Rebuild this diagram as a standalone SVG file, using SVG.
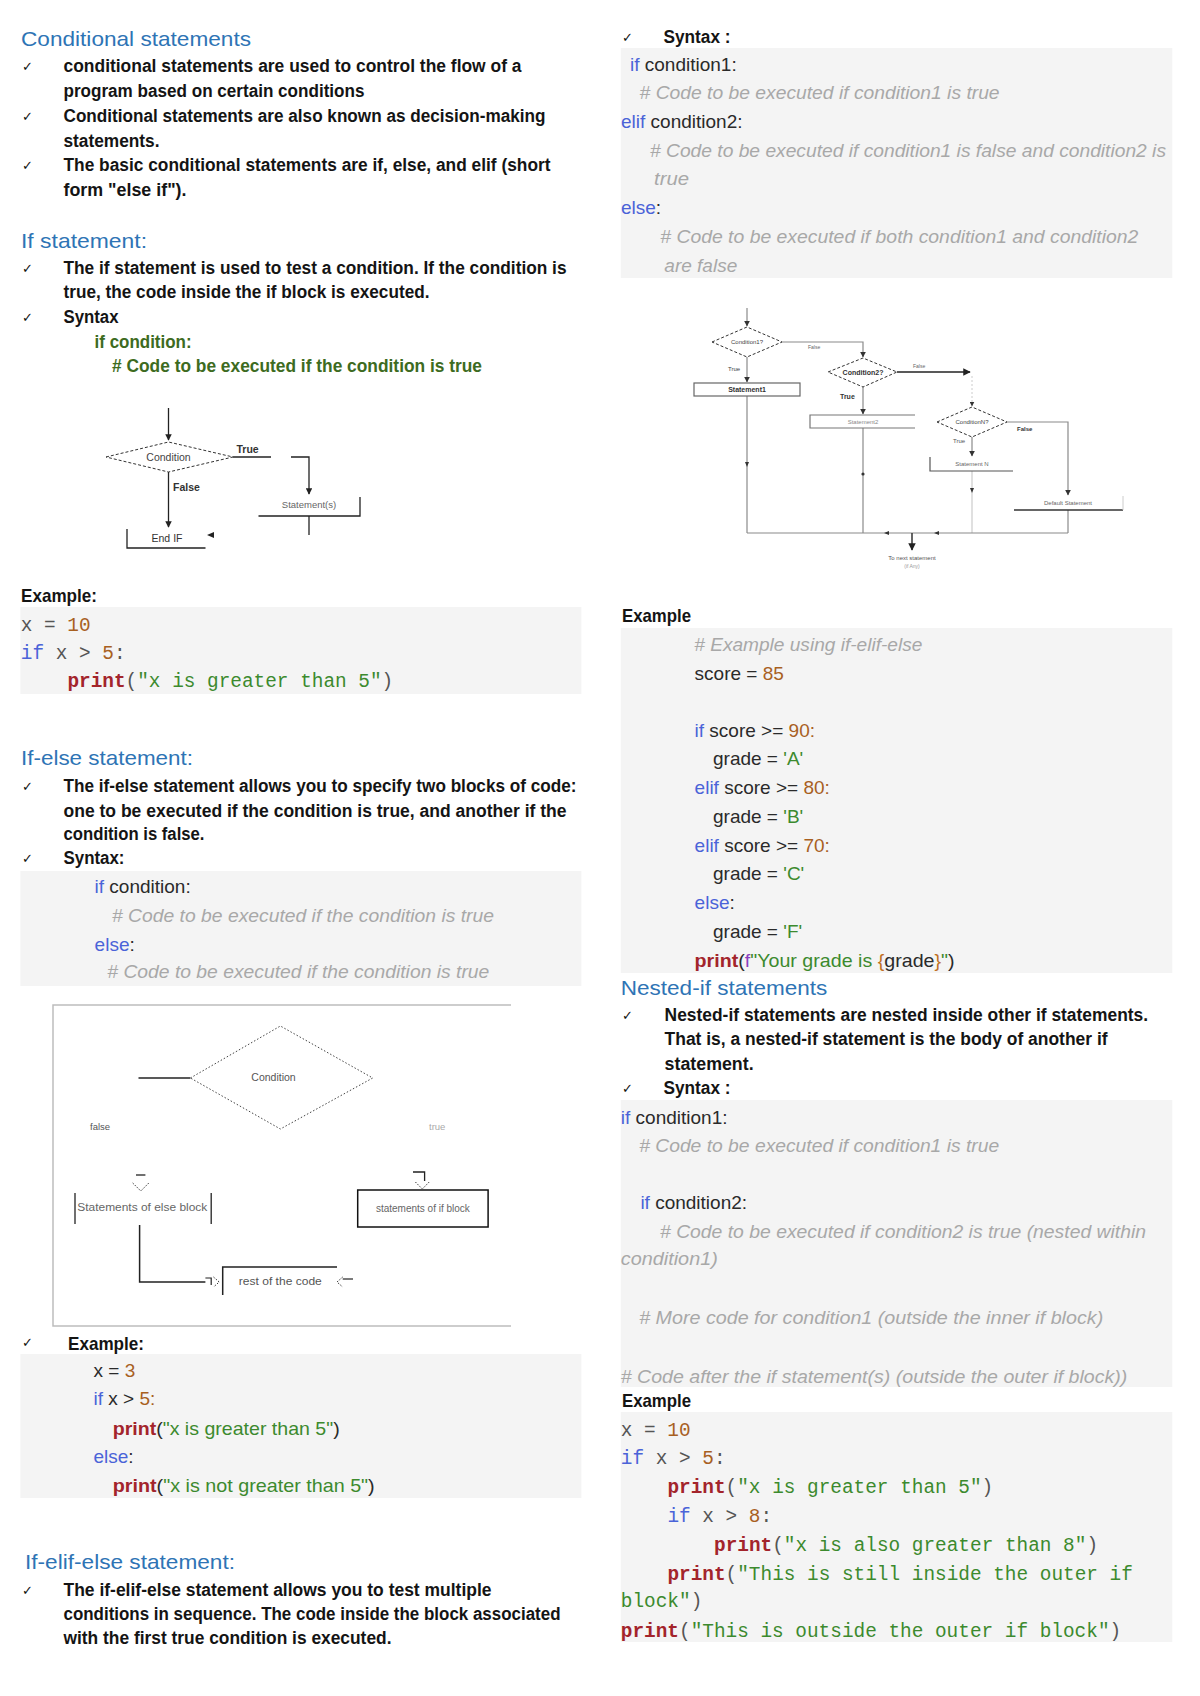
<svg xmlns="http://www.w3.org/2000/svg" width="1200" height="1696" viewBox="0 0 1200 1696">
<style>
text{font-family:'Liberation Sans Narrow','Liberation Sans',Arial,sans-serif}
.h{font-size:21px;fill:#2E74B5}
.b{font-size:17.5px;font-weight:bold;fill:#141414}
.ex{font-size:19px;font-weight:bold;fill:#141414}
.ck{font-family:'DejaVu Sans',sans-serif;font-size:13px;fill:#111}
.g{font-size:17.5px;font-weight:bold;fill:#3D6B21}
.c{font-size:19px;fill:#2a2a2a}
.cm{font-size:18.5px;font-style:italic;fill:#A8A8A8}
.m{font-family:'Liberation Mono','DejaVu Sans Mono',monospace;font-size:19.4px;fill:#555}
.kw{fill:#4A63D8}
.num{fill:#A8601F}
.pr{fill:#A3242B;font-weight:bold}
.str{fill:#3C8A2E}
.pu{fill:#8A3FBF}
.br{fill:#C0701F}
.box{fill:#F4F4F4}
.fl{fill:none;stroke:#222;stroke-width:1.3}
.fg{fill:none;stroke:#8a8a8a;stroke-width:1.2}
.dash{fill:#fff;stroke:#333;stroke-width:1;stroke-dasharray:3 2}
.dot{fill:#fff;stroke:#444;stroke-width:1;stroke-dasharray:1.5 2}
.tiny{font-size:6px;fill:#444}
</style>
<defs>
<marker id="ah" viewBox="0 0 10 10" refX="9" refY="5" markerWidth="5" markerHeight="5" orient="auto"><path d="M0,0 L10,5 L0,10 z" fill="#222"/></marker>
<marker id="ahg" viewBox="0 0 10 10" refX="9" refY="5" markerWidth="5" markerHeight="5" orient="auto"><path d="M0,0 L10,5 L0,10 z" fill="#333"/></marker>
</defs>
<rect width="1200" height="1696" fill="#fff"/>

<!-- ===== LEFT COLUMN ===== -->
<g id="sec-conditional">
<text class="h" x="21" y="46" textLength="230" lengthAdjust="spacingAndGlyphs">Conditional statements</text>
<text class="ck" x="22" y="71">✓</text>
<text class="b" x="63.5" y="72" textLength="458" lengthAdjust="spacingAndGlyphs">conditional statements are used to control the flow of a</text>
<text class="b" x="63.5" y="97" textLength="301" lengthAdjust="spacingAndGlyphs">program based on certain conditions</text>
<text class="ck" x="22" y="121">✓</text>
<text class="b" x="63.5" y="122" textLength="482" lengthAdjust="spacingAndGlyphs">Conditional statements are also known as decision-making</text>
<text class="b" x="63.5" y="147" textLength="96" lengthAdjust="spacingAndGlyphs">statements.</text>
<text class="ck" x="22" y="170">✓</text>
<text class="b" x="63.5" y="171" textLength="487" lengthAdjust="spacingAndGlyphs">The basic conditional statements are if, else, and elif (short</text>
<text class="b" x="63.5" y="196" textLength="123" lengthAdjust="spacingAndGlyphs">form "else if").</text>
</g>

<g id="sec-if">
<text class="h" x="21" y="248" textLength="126" lengthAdjust="spacingAndGlyphs">If statement:</text>
<text class="ck" x="22" y="273">✓</text>
<text class="b" x="63.5" y="274" textLength="503" lengthAdjust="spacingAndGlyphs">The if statement is used to test a condition. If the condition is</text>
<text class="b" x="63.5" y="298" textLength="366" lengthAdjust="spacingAndGlyphs">true, the code inside the if block is executed.</text>
<text class="ck" x="22" y="322">✓</text>
<text class="b" x="63.5" y="323" textLength="55" lengthAdjust="spacingAndGlyphs">Syntax</text>
<text class="g" x="94.6" y="348" textLength="97" lengthAdjust="spacingAndGlyphs">if condition:</text>
<text class="g" x="112" y="372" textLength="370" lengthAdjust="spacingAndGlyphs"># Code to be executed if the condition is true</text>
</g>

<!-- If flowchart -->
<g id="if-flow-connectors">
<line class="fl" x1="168.5" y1="408" x2="168.5" y2="440" marker-end="url(#ah)"/>
<line class="fl" x1="233" y1="457" x2="271" y2="457"/>
<polyline class="fl" points="291,457 309,457 309,494" marker-end="url(#ah)"/>
<line class="fl" x1="168.5" y1="472" x2="168.5" y2="527" marker-end="url(#ah)"/>
<line class="fl" x1="309" y1="516" x2="309" y2="535" stroke-width="1.6"/>
<polygon points="207,535 214,532 214,538" fill="#222"/>
</g>
<g id="if-flow-condition">
<polygon class="dash" points="106,457 168.5,442 233,457 168.5,472"/>
<text x="168.5" y="461" font-size="10.5" fill="#444" text-anchor="middle">Condition</text>
<text x="236.5" y="453" font-size="10.5" font-weight="bold" fill="#333">True</text>
<text x="173" y="491" font-size="10.5" font-weight="bold" fill="#333">False</text>
</g>
<g id="if-flow-statement">
<polyline class="fl" points="360,497 360,516 258.5,516" stroke-width="1.6"/>
<text x="309" y="508" font-size="9.5" fill="#666" text-anchor="middle">Statement(s)</text>
</g>
<g id="if-flow-endif">
<polyline class="fl" points="127,529 127,548 205.5,548" stroke-width="1.6"/>
<text x="167" y="542" font-size="10.5" fill="#333" text-anchor="middle">End IF</text>
</g>

<g id="sec-if-example">
<text class="ex" x="21" y="602" textLength="76" lengthAdjust="spacingAndGlyphs">Example:</text>
<rect class="box" x="20.4" y="607" width="561" height="87"/>
<text class="m" x="20.8" y="631">x = <tspan class="num">10</tspan></text>
<text class="m" x="20.8" y="659"><tspan class="kw">if</tspan> x &gt; <tspan class="num">5</tspan>:</text>
<text class="m" x="67.4" y="687"><tspan class="pr">print</tspan>(<tspan class="str">"x is greater than 5"</tspan>)</text>
</g>

<g id="sec-ifelse">
<text class="h" x="21" y="765" textLength="172" lengthAdjust="spacingAndGlyphs">If-else statement:</text>
<text class="ck" x="22" y="791">✓</text>
<text class="b" x="63.5" y="792" textLength="513" lengthAdjust="spacingAndGlyphs">The if-else statement allows you to specify two blocks of code:</text>
<text class="b" x="63.5" y="817" textLength="503" lengthAdjust="spacingAndGlyphs">one to be executed if the condition is true, and another if the</text>
<text class="b" x="63.5" y="840" textLength="141" lengthAdjust="spacingAndGlyphs">condition is false.</text>
<text class="ck" x="22" y="863">✓</text>
<text class="b" x="63.5" y="864" textLength="61" lengthAdjust="spacingAndGlyphs">Syntax:</text>
<rect class="box" x="20.4" y="871" width="561" height="115"/>
<text class="c" x="94.6" y="893"><tspan class="kw">if</tspan> condition:</text>
<text class="cm" x="112" y="922" textLength="382" lengthAdjust="spacingAndGlyphs"># Code to be executed if the condition is true</text>
<text class="c" x="94.6" y="951"><tspan class="kw">else</tspan>:</text>
<text class="cm" x="107.3" y="978" textLength="382" lengthAdjust="spacingAndGlyphs"># Code to be executed if the condition is true</text>
</g>

<!-- If-else flowchart -->
<g id="ifelse-frame">
<polyline points="511,1005 53,1005 53,1326 511,1326" fill="none" stroke="#BDBDBD" stroke-width="1.5"/>
</g>
<g id="ifelse-connectors">
<line x1="138.5" y1="1078" x2="190.4" y2="1078" stroke="#222" stroke-width="1.5"/>
<line x1="136" y1="1175" x2="145.4" y2="1175" stroke="#222" stroke-width="1.3"/>
<polyline points="132.7,1183 140.8,1191 148.8,1183" fill="none" stroke="#333" stroke-width="1" stroke-dasharray="1.5 1.5"/>
<polyline points="413,1172 424.6,1172 424.6,1181" fill="none" stroke="#222" stroke-width="1.3"/>
<polyline points="415.4,1182 422.3,1189 429.2,1182" fill="none" stroke="#333" stroke-width="1" stroke-dasharray="1.5 1.5"/>
<polyline points="139.6,1225 139.6,1282 205.4,1282" fill="none" stroke="#222" stroke-width="1.5"/>
<polyline points="205.4,1278 211.2,1278 211.2,1285" fill="none" stroke="#222" stroke-width="1.2"/>
<polyline points="213.5,1277 219.2,1282 213.5,1287" fill="none" stroke="#333" stroke-width="1" stroke-dasharray="1.5 1.5"/>
<line x1="342.7" y1="1279" x2="353" y2="1279" stroke="#222" stroke-width="1.2"/>
<polyline points="342.7,1277 337,1282 342.7,1287" fill="none" stroke="#333" stroke-width="1" stroke-dasharray="1.5 1.5"/>
</g>
<g id="ifelse-condition">
<polygon class="dot" points="190.4,1078 280.4,1026 372.7,1078 280.4,1129"/>
<text x="273.5" y="1081" font-size="10.5" fill="#555" text-anchor="middle">Condition</text>
<text x="90" y="1130" font-size="9.5" fill="#555">false</text>
<text x="429" y="1130" font-size="9.5" fill="#aaa">true</text>
</g>
<g id="ifelse-else-block">
<line x1="75" y1="1193" x2="75" y2="1224" stroke="#222" stroke-width="1.3"/>
<line x1="211.2" y1="1193" x2="211.2" y2="1224" stroke="#222" stroke-width="1.3"/>
<text x="77.3" y="1211" font-size="10" fill="#666" textLength="130" lengthAdjust="spacingAndGlyphs">Statements of else block</text>
</g>
<g id="ifelse-if-block">
<rect x="357.7" y="1190" width="130.4" height="37" fill="none" stroke="#111" stroke-width="1.5"/>
<text x="422.9" y="1212" font-size="10" fill="#666" text-anchor="middle">statements of if block</text>
</g>
<g id="ifelse-rest">
<polyline points="222.7,1295 222.7,1267 337,1267" fill="none" stroke="#222" stroke-width="1.5"/>
<text x="238.8" y="1285" font-size="10.5" fill="#555" textLength="83" lengthAdjust="spacingAndGlyphs">rest of the code</text>
</g>

<g id="sec-ifelse-example">
<text class="ck" x="22" y="1347">✓</text>
<text class="ex" x="68" y="1350" textLength="76" lengthAdjust="spacingAndGlyphs">Example:</text>
<rect class="box" x="20.4" y="1354" width="561" height="144"/>
<text class="c" x="93.5" y="1377">x = <tspan class="num">3</tspan></text>
<text class="c" x="93.5" y="1405"><tspan class="kw">if</tspan> x &gt; <tspan class="num">5:</tspan></text>
<text class="c" x="112.7" y="1435" textLength="227" lengthAdjust="spacingAndGlyphs"><tspan class="pr">print</tspan>(<tspan class="str">"x is greater than 5"</tspan>)</text>
<text class="c" x="93.5" y="1463"><tspan class="kw">else</tspan>:</text>
<text class="c" x="112.7" y="1492" textLength="262" lengthAdjust="spacingAndGlyphs"><tspan class="pr">print</tspan>(<tspan class="str">"x is not greater than 5"</tspan>)</text>
</g>

<g id="sec-ifelif">
<text class="h" x="25" y="1569" textLength="210" lengthAdjust="spacingAndGlyphs">If-elif-else statement:</text>
<text class="ck" x="22" y="1595">✓</text>
<text class="b" x="63.5" y="1596" textLength="428" lengthAdjust="spacingAndGlyphs">The if-elif-else statement allows you to test multiple</text>
<text class="b" x="63.5" y="1620" textLength="497" lengthAdjust="spacingAndGlyphs">conditions in sequence. The code inside the block associated</text>
<text class="b" x="63.5" y="1644" textLength="328" lengthAdjust="spacingAndGlyphs">with the first true condition is executed.</text>
</g>

<!-- ===== RIGHT COLUMN ===== -->
<g id="sec-ifelif-syntax">
<text class="ck" x="622" y="42">✓</text>
<text class="b" x="663.5" y="43" textLength="67" lengthAdjust="spacingAndGlyphs">Syntax :</text>
<rect class="box" x="620.8" y="48" width="551.5" height="230"/>
<text class="c" x="630" y="71"><tspan class="kw">if</tspan> condition1:</text>
<text class="cm" x="639.6" y="99" textLength="360" lengthAdjust="spacingAndGlyphs"># Code to be executed if condition1 is true</text>
<text class="c" x="621" y="128"><tspan class="kw">elif</tspan> condition2:</text>
<text class="cm" x="650" y="157" textLength="516" lengthAdjust="spacingAndGlyphs"># Code to be executed if condition1 is false and condition2 is</text>
<text class="cm" x="654" y="185" textLength="35" lengthAdjust="spacingAndGlyphs">true</text>
<text class="c" x="621" y="214"><tspan class="kw">else</tspan>:</text>
<text class="cm" x="660.3" y="243" textLength="478" lengthAdjust="spacingAndGlyphs"># Code to be executed if both condition1 and condition2</text>
<text class="cm" x="664.3" y="272" textLength="73" lengthAdjust="spacingAndGlyphs">are false</text>
</g>

<!-- elif flowchart -->
<g id="elif-connectors">
<line class="fg" x1="747" y1="308" x2="747" y2="326" marker-end="url(#ahg)"/>
<polyline class="fg" points="782,342 863,342 863,357" marker-end="url(#ahg)"/>
<line class="fg" x1="747" y1="357" x2="747" y2="382" marker-end="url(#ahg)"/>
<line class="fg" x1="747" y1="396" x2="747" y2="533"/>
<polygon points="745,462 749,462 747,467" fill="#333"/>
<line x1="897" y1="372" x2="970" y2="372" stroke="#222" stroke-width="1.5" marker-end="url(#ah)"/>
<line class="fg" x1="863" y1="387" x2="863" y2="414" marker-end="url(#ahg)"/>
<line class="fg" x1="863" y1="428" x2="863" y2="533"/>
<circle cx="863" cy="474" r="1.6" fill="#333"/>
<line x1="972" y1="376" x2="972" y2="406" stroke="#ccc" stroke-width="1" stroke-dasharray="2 2" marker-end="url(#ahg)"/>
<polyline class="fg" points="1007,422 1068,422 1068,495" marker-end="url(#ahg)"/>
<line class="fg" x1="972" y1="437" x2="972" y2="456" marker-end="url(#ahg)"/>
<line x1="972" y1="471" x2="972" y2="533" stroke="#ccc" stroke-width="1.2"/>
<polygon points="970,488 974,488 972,493" fill="#333"/>
<line class="fg" x1="1068" y1="510" x2="1068" y2="533"/>
<line class="fg" x1="747" y1="533" x2="1068" y2="533"/>
<polygon points="884,533 889,531 889,535" fill="#333"/>
<polygon points="934,533 939,531 939,535" fill="#333"/>
<line x1="912" y1="533" x2="912" y2="550" stroke="#333" stroke-width="1.5" marker-end="url(#ah)"/>
</g>
<g id="elif-cond1">
<polygon class="dash" points="712,342 747,327 782,342 747,357"/>
<text class="tiny" x="747" y="344" text-anchor="middle">Condition1?</text>
<text x="808" y="349" font-size="5" fill="#666">False</text>
<text x="728" y="371" font-size="6" fill="#444">True</text>
</g>
<g id="elif-stmt1">
<rect x="694" y="383" width="106" height="13" fill="#fff" stroke="#666" stroke-width="1.2"/>
<text x="747" y="392" font-size="7" font-weight="bold" fill="#333" text-anchor="middle">Statement1</text>
</g>
<g id="elif-cond2">
<polygon class="dash" points="828,372 863,358 897,372 863,387"/>
<text x="863" y="375" font-size="7" font-weight="bold" fill="#333" text-anchor="middle">Condition2?</text>
<text x="913" y="368" font-size="5" fill="#666">False</text>
<text x="840" y="399" font-size="7" font-weight="bold" fill="#333">True</text>
</g>
<g id="elif-stmt2">
<polyline points="915,415 810,415 810,428 915,428" fill="none" stroke="#777" stroke-width="1.2"/>
<text x="863" y="424" font-size="6" fill="#888" text-anchor="middle">Statement2</text>
</g>
<g id="elif-condn">
<polygon class="dash" points="937,422 972,407 1007,422 972,437"/>
<text class="tiny" x="972" y="424" text-anchor="middle">ConditionN?</text>
<text x="1017" y="431" font-size="6" font-weight="bold" fill="#333">False</text>
<text x="953" y="443" font-size="6" fill="#555">True</text>
</g>
<g id="elif-stmtn">
<polyline points="930,457 930,471 1013,471" fill="none" stroke="#555" stroke-width="1.2"/>
<text x="972" y="466" font-size="6" fill="#666" text-anchor="middle">Statement N</text>
</g>
<g id="elif-default">
<line x1="1014" y1="510" x2="1123" y2="510" stroke="#333" stroke-width="1.5"/>
<line x1="1123" y1="496" x2="1123" y2="510" stroke="#ccc" stroke-width="1"/>
<text x="1068" y="505" font-size="6" fill="#666" text-anchor="middle">Default Statement</text>
</g>
<g id="elif-next">
<text x="912" y="560" font-size="6" fill="#555" text-anchor="middle">To next statement</text>
<text x="912" y="568" font-size="5" fill="#999" text-anchor="middle">(if Any)</text>
</g>

<g id="sec-ifelif-example">
<text class="ex" x="622" y="622" textLength="69" lengthAdjust="spacingAndGlyphs">Example</text>
<rect class="box" x="620.8" y="628" width="551.5" height="345"/>
<text class="cm" x="694.3" y="651" textLength="228" lengthAdjust="spacingAndGlyphs"># Example using if-elif-else</text>
<text class="c" x="694.6" y="680">score = <tspan class="num">85</tspan></text>
<text class="c" x="694.6" y="737"><tspan class="kw">if</tspan> score &gt;= <tspan class="num">90:</tspan></text>
<text class="c" x="713" y="765">grade = <tspan class="str">'A'</tspan></text>
<text class="c" x="694.6" y="794"><tspan class="kw">elif</tspan> score &gt;= <tspan class="num">80:</tspan></text>
<text class="c" x="713" y="823">grade = <tspan class="str">'B'</tspan></text>
<text class="c" x="694.6" y="852"><tspan class="kw">elif</tspan> score &gt;= <tspan class="num">70:</tspan></text>
<text class="c" x="713" y="880">grade = <tspan class="str">'C'</tspan></text>
<text class="c" x="694.6" y="909"><tspan class="kw">else</tspan>:</text>
<text class="c" x="713" y="938">grade = <tspan class="str">'F'</tspan></text>
<text class="c" x="694.6" y="967" textLength="260" lengthAdjust="spacingAndGlyphs"><tspan class="pr">print</tspan>(<tspan class="pu">f</tspan><tspan class="str">"Your grade is </tspan><tspan class="br">{</tspan>grade<tspan class="br">}</tspan><tspan class="str">"</tspan>)</text>
</g>

<g id="sec-nested">
<text class="h" x="620.8" y="995" textLength="206.5" lengthAdjust="spacingAndGlyphs">Nested-if statements</text>
<text class="ck" x="622" y="1020">✓</text>
<text class="b" x="664.6" y="1021" textLength="483.5" lengthAdjust="spacingAndGlyphs">Nested-if statements are nested inside other if statements.</text>
<text class="b" x="664.6" y="1045" textLength="443" lengthAdjust="spacingAndGlyphs">That is, a nested-if statement is the body of another if</text>
<text class="b" x="664.6" y="1070" textLength="89" lengthAdjust="spacingAndGlyphs">statement.</text>
<text class="ck" x="622" y="1093">✓</text>
<text class="b" x="663.5" y="1094" textLength="67" lengthAdjust="spacingAndGlyphs">Syntax :</text>
<rect class="box" x="620.8" y="1100" width="551.5" height="287"/>
<text class="c" x="620.8" y="1124"><tspan class="kw">if</tspan> condition1:</text>
<text class="cm" x="639.2" y="1152" textLength="360" lengthAdjust="spacingAndGlyphs"># Code to be executed if condition1 is true</text>
<text class="c" x="640.4" y="1209"><tspan class="kw">if</tspan> condition2:</text>
<text class="cm" x="660" y="1238" textLength="486" lengthAdjust="spacingAndGlyphs"># Code to be executed if condition2 is true (nested within</text>
<text class="cm" x="620.8" y="1265" textLength="97" lengthAdjust="spacingAndGlyphs">condition1)</text>
<text class="cm" x="639.2" y="1324" textLength="464" lengthAdjust="spacingAndGlyphs"># More code for condition1 (outside the inner if block)</text>
<text class="cm" x="620.8" y="1383" textLength="506.5" lengthAdjust="spacingAndGlyphs"># Code after the if statement(s) (outside the outer if block))</text>
</g>

<g id="sec-nested-example">
<text class="ex" x="622" y="1407" textLength="69" lengthAdjust="spacingAndGlyphs">Example</text>
<rect class="box" x="620.8" y="1412" width="551.5" height="230"/>
<text class="m" x="620.8" y="1436">x = <tspan class="num">10</tspan></text>
<text class="m" x="620.8" y="1464"><tspan class="kw">if</tspan> x &gt; <tspan class="num">5</tspan>:</text>
<text class="m" x="667.4" y="1493"><tspan class="pr">print</tspan>(<tspan class="str">"x is greater than 5"</tspan>)</text>
<text class="m" x="667.4" y="1522"><tspan class="kw">if</tspan> x &gt; <tspan class="num">8</tspan>:</text>
<text class="m" x="714" y="1551"><tspan class="pr">print</tspan>(<tspan class="str">"x is also greater than 8"</tspan>)</text>
<text class="m" x="667.4" y="1580"><tspan class="pr">print</tspan>(<tspan class="str">"This is still inside the outer if</tspan></text>
<text class="m" x="620.8" y="1607"><tspan class="str">block"</tspan>)</text>
<text class="m" x="620.8" y="1637"><tspan class="pr">print</tspan>(<tspan class="str">"This is outside the outer if block"</tspan>)</text>
</g>
</svg>
